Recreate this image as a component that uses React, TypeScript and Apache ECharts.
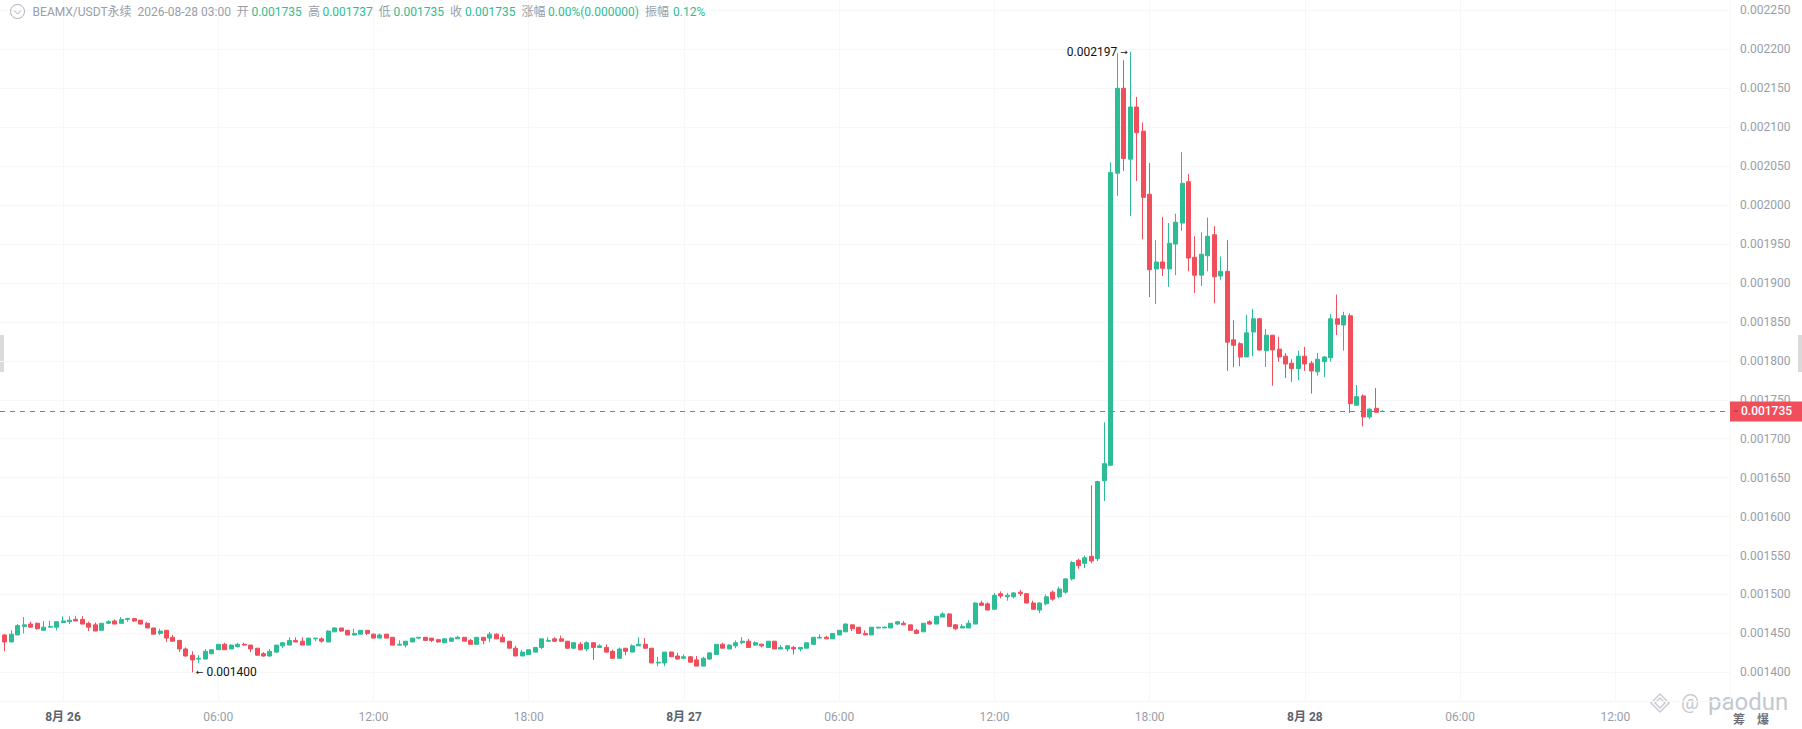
import React, { useEffect, useRef } from "react";
import * as echarts from "echarts";

// Prices are in millionths of a USDT, one candle every 15 minutes, the last at 2026-08-28 03:00.
const opens = [
  1448,1439,1448,1459,1462,1463,1454,1458,1458,1464,
  1465,1468,1468,1463,1461,1454,1463,1466,1463,1468,
  1469,1467,1463,1457,1450,1454,1445,1441,1430,1422,
  1417,1417,1424,1429,1436,1430,1433,1436,1435,1431,
  1424,1421,1426,1434,1435,1441,1440,1435,1443,1443,
  1439,1452,1457,1454,1448,1449,1454,1449,1444,1449,
  1445,1435,1435,1439,1444,1445,1444,1442,1438,1440,
  1443,1445,1441,1436,1445,1444,1449,1445,1440,1431,
  1421,1423,1426,1432,1440,1443,1443,1440,1431,1436,
  1430,1438,1432,1432,1427,1418,1431,1426,1434,1436,
  1431,1412,1412,1426,1421,1418,1420,1416,1408,1417,
  1423,1436,1430,1434,1438,1440,1435,1436,1432,1440,
  1430,1430,1432,1430,1431,1436,1444,1445,1443,1448,
  1452,1461,1458,1450,1448,1457,1457,1457,1462,1463,
  1461,1454,1452,1465,1462,1471,1475,1461,1457,1457,
  1462,1489,1488,1481,1501,1497,1497,1503,1501,1489,
  1480,1488,1503,1497,1503,1520,1544,1540,1549,1546,
  1646,1666,2041,2150,2059,2126,2095,2014,1918,1927,
  1918,1950,1977,2030,1933,1910,1935,1962,1909,1915,
  1827,1822,1805,1837,1854,1813,1833,1815,1806,1797,
  1790,1806,1797,1786,1799,1804,1854,1846,1858,1743,
  1755,1728,1739,1735,
];
const closes = [
  1439,1449,1460,1461,1458,1456,1458,1459,1465,1466,
  1467,1466,1462,1458,1453,1463,1465,1462,1468,1469,
  1466,1462,1457,1449,1453,1444,1440,1430,1421,1416,
  1418,1427,1429,1436,1429,1435,1436,1435,1430,1422,
  1421,1427,1435,1438,1441,1439,1435,1444,1444,1440,
  1453,1457,1453,1448,1450,1454,1450,1444,1448,1444,
  1435,1436,1440,1444,1445,1441,1441,1439,1443,1444,
  1445,1440,1436,1445,1441,1449,1443,1439,1431,1421,
  1426,1429,1432,1443,1441,1440,1440,1431,1438,1429,
  1438,1432,1434,1426,1418,1430,1427,1434,1436,1431,
  1412,1413,1426,1420,1417,1420,1413,1408,1418,1425,
  1436,1431,1435,1438,1440,1432,1438,1434,1440,1430,
  1432,1434,1430,1432,1438,1445,1445,1443,1450,1454,
  1462,1456,1450,1448,1458,1458,1458,1463,1465,1461,
  1454,1450,1463,1462,1472,1475,1459,1456,1459,1463,
  1489,1486,1480,1499,1498,1499,1502,1501,1489,1481,
  1489,1497,1494,1507,1520,1541,1537,1547,1543,1645,
  1668,2042,2150,2060,2126,2093,2010,1917,1927,1919,
  1951,1978,2028,1932,1910,1937,1960,1908,1915,1824,
  1820,1805,1836,1854,1814,1833,1814,1805,1796,1790,
  1806,1796,1787,1802,1805,1854,1847,1858,1745,1754,
  1728,1738,1734,1735,
];
const lows = [
  1427,1439,1448,1450,1458,1455,1454,1458,1454,1463,
  1462,1466,1462,1453,1453,1454,1462,1462,1463,1465,
  1465,1462,1457,1449,1448,1439,1440,1426,1420,1400,
  1412,1417,1423,1429,1429,1430,1432,1434,1426,1421,
  1420,1420,1425,1431,1435,1439,1435,1435,1440,1438,
  1439,1452,1452,1448,1447,1449,1448,1444,1444,1444,
  1435,1434,1432,1439,1443,1441,1439,1438,1438,1439,
  1443,1440,1436,1436,1436,1439,1443,1439,1431,1421,
  1421,1422,1426,1430,1440,1439,1439,1430,1430,1429,
  1427,1416,1432,1425,1418,1418,1422,1426,1434,1430,
  1412,1408,1408,1420,1417,1417,1413,1408,1408,1416,
  1423,1431,1430,1431,1436,1432,1434,1432,1432,1430,
  1430,1427,1423,1427,1431,1435,1444,1443,1443,1448,
  1452,1453,1450,1448,1448,1456,1457,1457,1461,1461,
  1454,1449,1452,1461,1462,1471,1459,1454,1457,1457,
  1462,1485,1480,1481,1495,1492,1495,1498,1489,1481,
  1476,1486,1492,1495,1501,1518,1533,1534,1540,1543,
  1620,1665,2012,2044,1986,2031,1956,1882,1873,1909,
  1895,1910,1967,1915,1887,1896,1915,1874,1904,1787,
  1792,1793,1805,1806,1813,1792,1768,1799,1778,1773,
  1775,1787,1758,1781,1779,1799,1833,1813,1733,1743,
  1716,1725,1734,1735,
];
const highs = [
  1449,1454,1462,1471,1465,1464,1466,1466,1465,1472,
  1472,1472,1472,1465,1464,1463,1467,1468,1471,1470,
  1470,1467,1465,1457,1456,1454,1448,1442,1432,1427,
  1422,1430,1429,1436,1438,1436,1438,1438,1435,1431,
  1426,1430,1435,1439,1445,1445,1445,1444,1444,1445,
  1454,1458,1457,1454,1456,1454,1454,1450,1450,1449,
  1445,1441,1440,1444,1445,1445,1444,1443,1444,1445,
  1447,1445,1443,1445,1445,1452,1450,1449,1440,1434,
  1429,1429,1432,1443,1445,1445,1447,1440,1439,1439,
  1440,1439,1436,1436,1429,1432,1431,1436,1445,1444,
  1431,1420,1426,1427,1425,1423,1421,1421,1420,1426,
  1436,1438,1436,1441,1445,1443,1440,1437,1440,1440,
  1435,1435,1434,1432,1438,1445,1449,1447,1450,1454,
  1463,1461,1458,1454,1458,1458,1459,1463,1466,1466,
  1461,1456,1463,1467,1472,1477,1476,1462,1462,1467,
  1490,1492,1490,1502,1504,1502,1503,1506,1502,1492,
  1490,1500,1505,1510,1521,1543,1546,1550,1640,1646,
  1721,2055,2195,2186,2197,2139,2106,2054,1955,1985,
  1977,1989,2068,2040,1960,1965,1984,1973,1934,1955,
  1852,1824,1859,1867,1855,1841,1833,1831,1810,1802,
  1813,1818,1800,1810,1806,1860,1885,1863,1861,1769,
  1757,1739,1765,1737,
];

const priceTicks = [
  1400,1450,1500,1550,1600,1650,1700,1750,1800,1850,1900,
  1950,2000,2050,2100,2150,2200,2250,
];
// Hours since 2026-08-26 00:00
const timeTicks = [0, 6, 12, 18, 24, 30, 36, 42, 48, 54, 60];
const timeLabels = [
  "8月 26","06:00","12:00","18:00","8月 27","06:00","12:00","18:00","8月 28","06:00","12:00",
];
const dateTickHours = [0, 24, 48];
const firstCandleHour = -2.25;
const candleHours = 0.25;

const lastPrice = 1735;
const maxPoint = { index: 174, value: 2197 };
const minPoint = { index: 29, value: 1400 };

const headerParts = [
  { text: "BEAMX/USDT永续", x: 32.6, c: "grey" },
  { text: "2026-08-28 03:00", x: 137.5, c: "grey" },
  { text: "开", x: 236.7, c: "grey" },
  { text: "0.001735", x: 251.4, c: "green" },
  { text: "高", x: 308, c: "grey" },
  { text: "0.001737", x: 322.4, c: "green" },
  { text: "低", x: 378.8, c: "grey" },
  { text: "0.001735", x: 393.5, c: "green" },
  { text: "收", x: 450, c: "grey" },
  { text: "0.001735", x: 465, c: "green" },
  { text: "涨幅", x: 521.6, c: "grey" },
  { text: "0.00%(0.000000)", x: 548, c: "green" },
  { text: "振幅", x: 645, c: "grey" },
  { text: "0.12%", x: 673, c: "green" },
];

const UP = "#2DBD96";
const DOWN = "#F14E5C";
const GREY = "#989EAA";
const GRID = "#F7F7F7";
const FONT = 'Roboto, "Noto Sans CJK SC", sans-serif';
const HEADER_Y = 11.5;
const fmt = (v: number) => (v / 1e6).toFixed(6);

export default function App() {
  const ref = useRef<HTMLDivElement>(null);
  useEffect(() => {
    document.body.style.margin = "0";
    const chart = echarts.init(ref.current!, undefined, { renderer: "svg" });
    const hour = (i: number) => firstCandleHour + i * candleHours;
    const data = opens.map((o, i) => [hour(i), o, closes[i], lows[i], highs[i]]);

    const headerEls: any[] = headerParts.map((p) => ({
      type: "text",
      x: p.x,
      y: HEADER_Y,
      z: 100,
      style: {
        text: p.text,
        fill: p.c === "green" ? UP : GREY,
        font: `12px ${FONT}`,
        verticalAlign: "middle",
      },
    }));

    chart.setOption({
      animation: false,
      backgroundColor: "#ffffff",
      textStyle: { fontFamily: FONT },
      grid: { left: 0, right: 72, top: 0, bottom: 28, containLabel: false },
      xAxis: {
        type: "value",
        min: -2.435,
        max: 64.43,
        axisLine: { show: true, onZero: false, lineStyle: { color: GRID } },
        axisTick: { show: false, customValues: timeTicks },
        splitLine: { show: true, lineStyle: { color: GRID, width: 1 } },
        axisLabel: {
          customValues: timeTicks,
          margin: 10,
          fontSize: 12,
          color: GREY,
          fontFamily: FONT,
          formatter: (v: number) => {
            const label = timeLabels[timeTicks.indexOf(v)] ?? "";
            return dateTickHours.includes(v) ? `{d|${label}}` : label;
          },
          rich: {
            d: { fontWeight: "bold", color: "#5C6370", fontSize: 12, fontFamily: FONT },
          },
        },
      },
      yAxis: {
        type: "value",
        position: "right",
        min: 1363.2,
        max: 2263.4,
        axisLine: { show: true, onZero: false, lineStyle: { color: GRID } },
        axisTick: { show: false, customValues: priceTicks },
        splitLine: { show: true, lineStyle: { color: GRID, width: 1 } },
        axisLabel: {
          customValues: priceTicks,
          margin: 10,
          fontSize: 12,
          color: GREY,
          fontFamily: FONT,
          formatter: (v: number) => fmt(v),
        },
      },
      series: [
        {
          type: "candlestick",
          barWidth: 4.5,
          encode: { x: 0, y: [1, 2, 3, 4] },
          data,
          itemStyle: {
            color: UP,
            color0: DOWN,
            borderColor: UP,
            borderColor0: DOWN,
            borderWidth: 1,
          },
          markLine: {
            silent: true,
            symbol: "none",
            lineStyle: { color: "#E4566A", type: [5, 5], width: 1 },
            label: {
              show: true,
              position: "end",
              distance: 0,
              formatter: () => fmt(lastPrice),
              color: "#fff",
              fontFamily: FONT,
              fontSize: 12,
              fontWeight: 500,
              backgroundColor: DOWN,
              padding: [4, 10, 4, 11],
            },
            data: [{ yAxis: lastPrice }],
          },
          markPoint: {
            silent: true,
            symbol: "circle",
            symbolSize: 1,
            itemStyle: { color: "transparent" },
            data: [
              {
                coord: [hour(maxPoint.index), maxPoint.value],
                label: {
                  show: true,
                  position: "left",
                  distance: 2,
                  formatter: `{t|${fmt(maxPoint.value)}} {a|→}`,
                  rich: {
                    t: { color: "#111", fontSize: 12, fontFamily: FONT },
                    a: { color: "#111", fontSize: 9, fontFamily: "DejaVu Sans" },
                  },
                },
              },
              {
                coord: [hour(minPoint.index), minPoint.value],
                label: {
                  show: true,
                  position: "right",
                  distance: 3,
                  formatter: `{a|←} {t|${fmt(minPoint.value)}}`,
                  rich: {
                    t: { color: "#111", fontSize: 12, fontFamily: FONT },
                    a: { color: "#111", fontSize: 9, fontFamily: "DejaVu Sans" },
                  },
                },
              },
            ],
          },
        },
      ],
      graphic: [
        { type: "circle", z: 100, shape: { cx: 17.5, cy: HEADER_Y, r: 7 }, style: { fill: "none", stroke: "#A9AEB8", lineWidth: 1 } },
        { type: "polyline", z: 100, shape: { points: [[14, HEADER_Y - 1], [17.5, HEADER_Y + 2.5], [21, HEADER_Y - 1]] }, style: { fill: "none", stroke: "#A9AEB8", lineWidth: 1 } },
        ...headerEls,
        { type: "rect", shape: { x: 0, y: 335, width: 4, height: 37 }, style: { fill: "#DADADA" } },
        { type: "rect", shape: { x: 1798, y: 335, width: 4, height: 37 }, style: { fill: "#DADADA" } },
        { type: "rect", shape: { x: 1734, y: 410.5, width: 4, height: 1 }, style: { fill: "#A02A36" }, z: 100 },
        // watermark
        { type: "polygon", shape: { points: [[1651, 703], [1660, 694], [1669, 703], [1660, 712]] }, style: { fill: "none", stroke: "#C9CDD3", lineWidth: 1.5 } },
        { type: "polygon", shape: { points: [[1655, 703], [1660, 698], [1665, 703], [1660, 708]] }, style: { fill: "none", stroke: "#C9CDD3", lineWidth: 1.5 } },
        { type: "text", x: 1681, y: 702, style: { text: "@", fill: "#C4C8CE", font: `20px ${FONT}`, verticalAlign: "middle" } },
        { type: "text", x: 1708, y: 702, style: { text: "paodun", fill: "#C4C8CE", font: `24px ${FONT}`, verticalAlign: "middle" } },
        { type: "text", x: 1733, y: 720, style: { text: "筹", fill: "#6B7078", font: `bold 12px ${FONT}`, verticalAlign: "middle" } },
        { type: "text", x: 1757, y: 720, style: { text: "爆", fill: "#6B7078", font: `bold 12px ${FONT}`, verticalAlign: "middle" } },
      ],
    });
    return () => chart.dispose();
  }, []);
  return <div ref={ref} style={{ width: 1802, height: 729 }} />;
}
